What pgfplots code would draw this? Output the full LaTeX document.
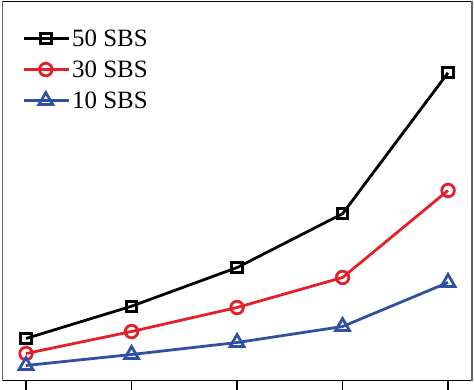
\documentclass[border=0pt]{standalone}
\usepackage{pgfplots}
\pgfplotsset{compat=1.18}
\usepackage{fontspec}
\setmainfont{Liberation Serif}
\definecolor{myred}{HTML}{E5202A}
\definecolor{myblue}{HTML}{3050A2}
\begin{document}
\begin{tikzpicture}
\begin{axis}[name=ax, scale only axis, width=469.5bp, height=379bp,
  xmin=0.777, xmax=5.227, ymin=0, ymax=5,
  xtick={1,2,3,4,5}, ytick=\empty,
  minor ytick={1,2,3,4},
  xticklabels={},
  xtick pos=bottom, ytick pos=left,
  xtick align=outside, ytick align=inside,
  major tick length=9bp, minor tick length=4bp,
  x tick style={black, line width=1.3pt},
  minor y tick style={gray!60, line width=0.9pt},
  separate axis lines,
  x axis line style={black, line width=1.5pt},
  y axis line style={gray!80!black, line width=1.5pt},
  legend style={draw=none, fill=none, at={(rel axis cs:0.042,0.932)}, anchor=north west,
    font=\fontsize{25}{29}\selectfont, row sep=9bp, inner sep=0pt},
  legend cell align=left,
  legend image code/.code={\draw[mark repeat=2,mark phase=2] plot coordinates {(0bp,0bp)(22bp,0bp)(45bp,0bp)};},
]
\addplot[black, line width=2.8pt, mark=square, mark size=5.2bp, mark options={line width=3pt, fill=white, solid}]
  coordinates {(1,0.554)(2,0.98)(3,1.49)(4,2.20)(5,4.06)};
\addlegendentry{50 SBS}
\addplot[myred, line width=2.8pt, mark=o, mark size=6.3bp, mark options={line width=2.8pt, fill=white, solid}]
  coordinates {(1,0.356)(2,0.646)(3,0.963)(4,1.359)(5,2.507)};
\addlegendentry{30 SBS}
\addplot[myblue, line width=2.8pt, mark=triangle, mark size=8bp, mark options={line width=2.8pt, fill=white, solid}]
  coordinates {(1,0.198)(2,0.343)(3,0.501)(4,0.712)(5,1.293)};
\addlegendentry{10 SBS}
\end{axis}
\pgfresetboundingbox
\useasboundingbox ([xshift=-2.5bp,yshift=-9bp]ax.south west) rectangle ([xshift=2bp,yshift=1.5bp]ax.north east);
\end{tikzpicture}
\end{document}
